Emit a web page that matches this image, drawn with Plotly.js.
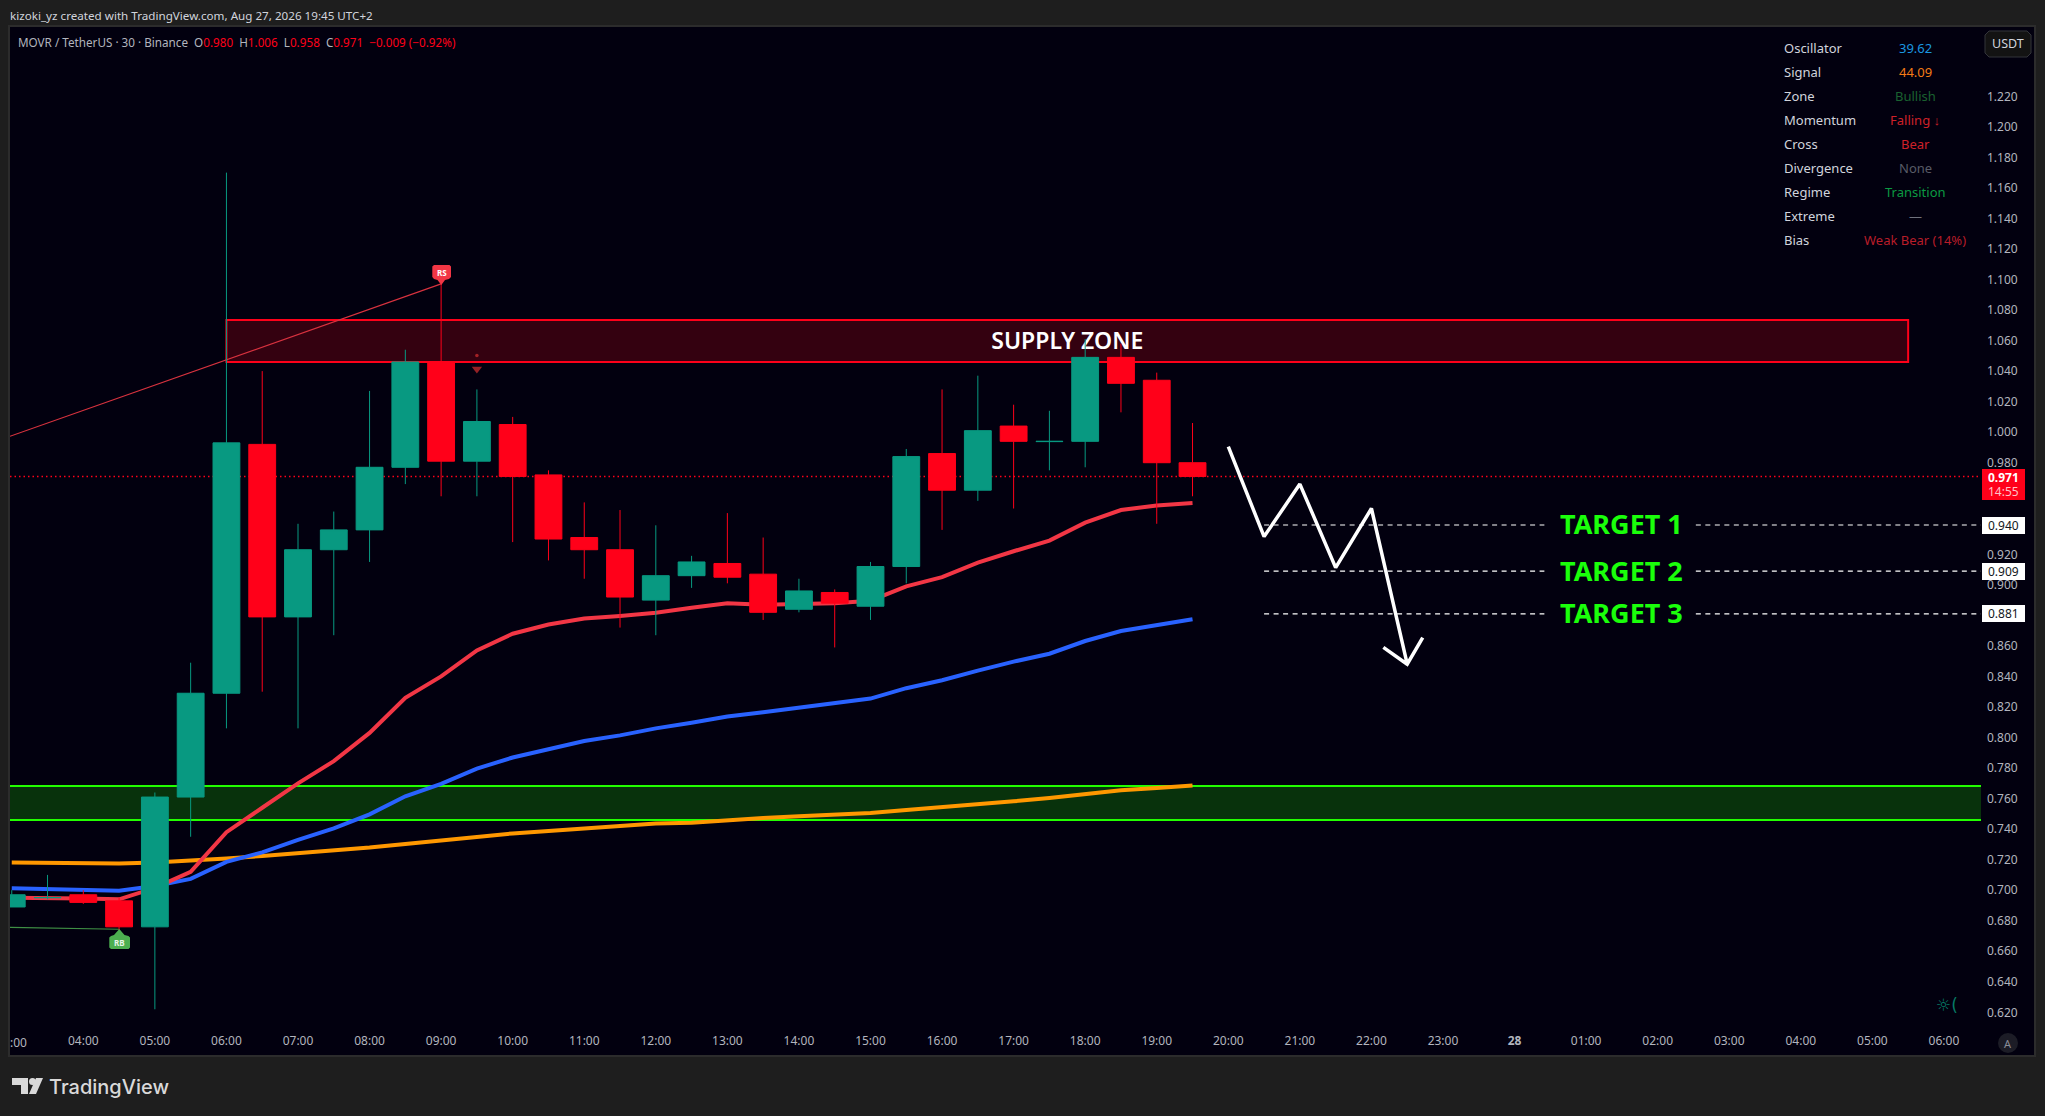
<!DOCTYPE html>
<html><head><meta charset="utf-8">
<script src="https://cdn.plot.ly/plotly-3.0.1.min.js"></script>
<style>html,body{margin:0;padding:0;background:#1e1e1e}#c{width:2045px;height:1116px}</style>
</head><body><div id="c"></div>
<script>
const barTimes=['2026-08-27 03:00','2026-08-27 03:30','2026-08-27 04:00','2026-08-27 04:30','2026-08-27 05:00','2026-08-27 05:30','2026-08-27 06:00','2026-08-27 06:30','2026-08-27 07:00','2026-08-27 07:30','2026-08-27 08:00','2026-08-27 08:30','2026-08-27 09:00','2026-08-27 09:30','2026-08-27 10:00','2026-08-27 10:30','2026-08-27 11:00','2026-08-27 11:30','2026-08-27 12:00','2026-08-27 12:30','2026-08-27 13:00','2026-08-27 13:30','2026-08-27 14:00','2026-08-27 14:30','2026-08-27 15:00','2026-08-27 15:30','2026-08-27 16:00','2026-08-27 16:30','2026-08-27 17:00','2026-08-27 17:30','2026-08-27 18:00','2026-08-27 18:30','2026-08-27 19:00','2026-08-27 19:30'];
const opens=[.689,.695,.697,.693,.676,.761,.829,.992,.879,.923,.936,.977,1.046,.981,1.005,.972,.931,.923,.890,.906,.914,.907,.884,.895,.886,.912,.986,.962,1.004,.9938,.994,1.049,1.034,.980];
const highs=[.700,.710,.700,.695,.764,.849,1.170,1.040,.940,.948,1.027,1.054,1.097,1.028,1.010,.975,.954,.949,.939,.919,.947,.931,.904,.897,.915,.989,1.028,1.037,1.018,1.014,1.061,1.058,1.039,1.006];
const lows=[.689,.694,.691,.674,.622,.735,.806,.830,.806,.867,.915,.966,.958,.958,.928,.916,.904,.872,.867,.898,.901,.877,.882,.859,.877,.901,.936,.955,.950,.975,.977,1.013,.940,.958];
const closes=[.697,.6952,.692,.676,.761,.829,.993,.879,.923,.936,.977,1.046,.981,1.007,.971,.930,.923,.892,.906,.915,.905,.882,.896,.888,.912,.984,.962,1.001,.994,.994,1.049,1.032,.980,.971];
const maRed=[.695,.6949,.6946,.694,.7015,.712,.738,.754,.770,.7845,.803,.826,.840,.857,.868,.874,.878,.8796,.8817,.885,.888,.887,.8875,.888,.8896,.899,.905,.9145,.922,.929,.9407,.949,.952,.9536];
const maBlue=[.7012,.7009,.7005,.6997,.7028,.7074,.7185,.7248,.7329,.7405,.7497,.7615,.7697,.7796,.7869,.7925,.7977,.8014,.806,.8097,.8137,.8165,.8196,.8224,.8255,.8323,.8375,.8438,.8497,.8549,.8632,.8698,.8737,.8775];
const maOrange=[.7181,.7179,.7177,.7175,.7182,.7193,.7208,.7224,.7241,.7258,.7279,.7303,.7326,.7349,.7372,.7388,.7402,.7421,.7436,.7442,.7460,.7473,.7484,.7495,.7506,.7525,.7543,.7560,.7582,.7604,.7628,.7655,.7670,.7685];
const priceTicks=[.62,.64,.66,.68,.70,.72,.74,.76,.78,.80,.82,.84,.86,.88,.90,.92,.94,.96,.98,1.0,1.02,1.04,1.06,1.08,1.10,1.12,1.14,1.16,1.18,1.20,1.22];
const timeTicks=['2026-08-27 04:00','2026-08-27 05:00','2026-08-27 06:00','2026-08-27 07:00','2026-08-27 08:00','2026-08-27 09:00','2026-08-27 10:00','2026-08-27 11:00','2026-08-27 12:00','2026-08-27 13:00','2026-08-27 14:00','2026-08-27 15:00','2026-08-27 16:00','2026-08-27 17:00','2026-08-27 18:00','2026-08-27 19:00','2026-08-27 20:00','2026-08-27 21:00','2026-08-27 22:00','2026-08-27 23:00','2026-08-28 00:00','2026-08-28 01:00','2026-08-28 02:00','2026-08-28 03:00','2026-08-28 04:00','2026-08-28 05:00','2026-08-28 06:00'];
const timeLabels=['04:00','05:00','06:00','07:00','08:00','09:00','10:00','11:00','12:00','13:00','14:00','15:00','16:00','17:00','18:00','19:00','20:00','21:00','22:00','23:00','<b>28</b>','01:00','02:00','03:00','04:00','05:00','06:00'];
const pathTimes=['2026-08-27 20:00','2026-08-27 20:30','2026-08-27 21:00','2026-08-27 21:30','2026-08-27 22:00','2026-08-27 22:30','2026-08-27 22:10','2026-08-27 22:30','2026-08-27 22:43'];
const pathPrices=[.9905,.9316,.966,.9113,.950,.848,.859,.848,.8654];
const targetNames=['TARGET 1','TARGET 2','TARGET 3'];
const targetLabels=['0.940','0.909','0.881'];
const targetPrices=[.9392,.909,.881];
const supplyZone=[1.046,1.0735];
const demandZone=[.746,.7683];
const lastPrice=.971;
const rowLabels=['Oscillator','Signal','Zone','Momentum','Cross','Divergence','Regime','Extreme','Bias'];
const rowValues=['39.62','44.09','Bullish','Falling ↓','Bear','None','Transition','—','Weak Bear (14%)'];
const rowColors=['#1a97e0','#f47b16','#1a6230','#cf2029','#cf2029','#585b66','#0b9a42','#6f727d','#b81d29'];

const F='"Noto Sans",sans-serif';
const L=10,R=1981,T=27,B=1030;
const xr=['2026-08-27 02:58:32','2026-08-28 06:31:05'], yr=[.60842,1.26539];
const px=x=>(x-L)/(R-L), py=y=>(B-y)/(B-T);
const rectPx=(x0,y0,x1,y1,fill,line,layer,lw)=>({type:'rect',xref:'paper',yref:'paper',x0:px(x0),x1:px(x1),y0:py(y0),y1:py(y1),fillcolor:fill,line:{color:line||fill,width:lw||0},layer:layer||'above'});
const note=(x,y,text,color,size,anchor,extra)=>Object.assign({xref:'paper',yref:'paper',x:px(x),y:py(y),text,showarrow:false,xanchor:anchor||'center',yanchor:'middle',font:{family:F,size,color},borderpad:0,borderwidth:0},extra||{});
const polyPx=(pts,fill)=>({type:'path',xref:'paper',yref:'paper',path:'M'+pts.map(p=>px(p[0])+','+py(p[1])).join('L')+'Z',fillcolor:fill,line:{width:0},layer:'above'});

const traces=[
 {type:'scatter',mode:'text',x:['2026-08-27 17:45'],y:[1.0582],text:['SUPPLY ZONE'],textposition:'middle center',textfont:{family:F,size:23,color:'#fff',weight:600},hoverinfo:'skip'},
 {type:'scatter',mode:'lines',x:barTimes,y:maOrange,line:{color:'#ff9800',width:4},hoverinfo:'skip'},
 {type:'scatter',mode:'lines',x:barTimes,y:maBlue,line:{color:'#2962ff',width:4},hoverinfo:'skip'},
 {type:'scatter',mode:'lines',x:barTimes,y:maRed,line:{color:'#f23645',width:4},hoverinfo:'skip'},
 {type:'candlestick',xaxis:'x2',yaxis:'y2',x:barTimes,open:opens,high:highs,low:lows,close:closes,whiskerwidth:0,
  increasing:{line:{color:'#089981',width:1},fillcolor:'#089981'},decreasing:{line:{color:'#ff0019',width:1},fillcolor:'#ff0019'},hoverinfo:'skip'},
 {type:'scatter',xaxis:'x2',yaxis:'y2',mode:'markers',x:['2026-08-27 09:30','2026-08-27 09:30'],y:[1.0414,1.0503],marker:{symbol:['triangle-down','circle'],size:[9,3.5],color:'#d32f2f',line:{width:0}},hoverinfo:'skip'},
 {type:'scatter',xaxis:'x2',yaxis:'y2',mode:'lines',x:pathTimes,y:pathPrices,line:{color:'#fff',width:3.5},hoverinfo:'skip'}
];

const shapes=[
 rectPx(9,26,2035,1056,'#02000f','#2c2c2c','below',2),
 {type:'line',xref:'paper',yref:'y',x0:0,x1:1,y0:lastPrice,y1:lastPrice,line:{color:'#ff0019',width:1.5,dash:'1.5px,3px'},layer:'below'},
 {type:'rect',xref:'x',yref:'y',x0:'2026-08-27 06:00',x1:'2026-08-28 05:30',y0:supplyZone[0],y1:supplyZone[1],fillcolor:'#340110',line:{color:'#ff0019',width:2},layer:'below'},
 {type:'rect',xref:'x',yref:'y',x0:'2026-08-26 12:00',x1:'2026-08-28 18:00',y0:demandZone[0],y1:demandZone[1],fillcolor:'#08320c',line:{color:'#22ff00',width:2},layer:'below'},
 {type:'line',xref:'x',yref:'y',x0:xr[0],x1:'2026-08-27 09:00',y0:.9973,y1:1.0971,line:{color:'#d8323f',width:1.2},layer:'below'},
 {type:'line',xref:'x',yref:'y',x0:xr[0],x1:'2026-08-27 04:30',y0:.6757,y1:.6744,line:{color:'#3f8f45',width:1.2},layer:'below'},
 ...targetPrices.flatMap(p=>[
  {type:'line',xref:'x',yref:'y',x0:'2026-08-27 20:30',x1:'2026-08-28 00:25',y0:p,y1:p,line:{color:'#fff',width:1.2,dash:'5px,4.5px'},layer:'below'},
  {type:'line',xref:'x',yref:'y',x0:'2026-08-28 02:32',x1:xr[1],y0:p,y1:p,line:{color:'#fff',width:1.2,dash:'5px,4.5px'},layer:'below'}]),
 rectPx(1982,469,2025,500,'#ff0019'),
 rectPx(1982,517,2025,534,'#ffffff'),
 rectPx(1982,563,2025,580,'#ffffff'),
 rectPx(1982,605,2025,622,'#ffffff'),
 {type:'path',xref:'paper',yref:'paper',path:(()=>{const a=1985,b=2031,c=31,d=57,r=4;const P=(x,y)=>px(x)+','+py(y);return 'M'+P(a+r,c)+'L'+P(b-r,c)+'L'+P(b,c+r)+'L'+P(b,d-r)+'L'+P(b-r,d)+'L'+P(a+r,d)+'L'+P(a,d-r)+'L'+P(a,c+r)+'Z'})(),fillcolor:'#131313',line:{color:'#33343a',width:1},layer:'above'},
 {type:'circle',xref:'paper',yref:'paper',x0:px(1998),x1:px(2018),y0:py(1053),y1:py(1033),fillcolor:'#1c1c26',line:{width:0},layer:'above'},
 polyPx([[434,265],[449.5,265],[451,266.5],[451,277],[449,279],[445,280],[441.3,285],[437.5,280],[434,279],[432.3,277],[432.3,266.5]],'#f23645'),
 polyPx([[111,936],[114,935],[119.3,929],[124.5,935],[128.5,936],[130,937.5],[130,947.5],[128.5,949],[111,949],[109.3,947.5],[109.3,937.5]],'#4caf50'),
 polyPx([[12,1078],[28,1078],[28,1094],[21,1094],[21,1085],[12,1085]],'#d9d9d9'),
 {type:'circle',xref:'paper',yref:'paper',x0:px(29),x1:px(36),y0:py(1085),y1:py(1078),fillcolor:'#d9d9d9',line:{width:0},layer:'above'},
 polyPx([[36,1094],[29,1094],[36,1078],[43,1078]],'#d9d9d9')
];

const annotations=[
 note(10,15,'kizoki_yz created with TradingView.com, Aug 27, 2026 19:45 UTC+2','#d1d4dc',11.65,'left'),
 note(18,42,'MOVR / TetherUS · 30 · Binance&nbsp;&nbsp;O<span style="color:#ff0019">0.980</span>&nbsp;&nbsp;H<span style="color:#ff0019">1.006</span>&nbsp;&nbsp;L<span style="color:#ff0019">0.958</span>&nbsp;&nbsp;C<span style="color:#ff0019">0.971</span>&nbsp;&nbsp;<span style="color:#ff0019">−0.009 (−0.92%)</span>','#b2b5be',11.7,'left'),
 ...rowLabels.map((t,i)=>note(1784,48.3+24*i,t,'#d1d4dc',13,'left')),
 ...rowValues.map((t,i)=>note(1915,48.3+24*i,t,rowColors[i],13,'center')),
 note(2008,44,'USDT','#d1d4dc',12.5),
 note(2008,1043,'A','#8a8d98',11),
 note(2003,477,'<b>0.971</b>','#ffffff',12),
 note(2003,492,'14:55','#ffc2c8',12),
 ...targetLabels.map((t,i)=>note(2003,[525.5,571.5,613.5][i],t,'#131722',12)),
 ...targetNames.map((t,i)=>note(1621,[523,570,612][i],'<b>'+t+'</b>','#1aff0a',27)),
 note(10,1042,':00','#b2b5be',12,'left'),
 note(49,1087,'TradingView','#d9d9d9',20,'left',{font:{family:'Inter,sans-serif',size:20,color:'#d9d9d9',weight:500}}),
 note(441.5,272.5,'<b>RS</b>','#ffffff',8),
 note(119.5,942,'<b>RB</b>','#e8f5e9',8),
 note(1947,1005,'☼(','#067a66',17,'center',{font:{family:'"DejaVu Sans",sans-serif',size:17,color:'#067a66'}})
];

const layout={
 width:2045,height:1116,margin:{l:L,r:2045-R,t:T,b:1116-B,pad:0},
 paper_bgcolor:'#1e1e1e',plot_bgcolor:'#02000f',showlegend:false,dragmode:false,hovermode:false,
 xaxis:{type:'date',range:xr,tickmode:'array',tickvals:timeTicks,ticktext:timeLabels,tickangle:0,showgrid:false,zeroline:false,showline:false,ticks:'',rangeslider:{visible:false},tickfont:{family:F,size:12,color:'#b2b5be'},ticklabelstandoff:2},
 yaxis:{side:'right',range:yr,tickmode:'array',tickvals:priceTicks,tickformat:'.3f',showgrid:false,zeroline:false,showline:false,ticks:'',tickfont:{family:F,size:12,color:'#b2b5be'},ticklabelstandoff:5},
 xaxis2:{type:'date',overlaying:'x',range:xr,visible:false,rangeslider:{visible:false}},
 yaxis2:{overlaying:'y',side:'right',range:yr,visible:false},
 boxgap:.25,boxgroupgap:0,boxmode:'overlay',shapes,annotations
};
Plotly.newPlot('c',traces,layout,{displayModeBar:false,staticPlot:true});
</script></body></html>
